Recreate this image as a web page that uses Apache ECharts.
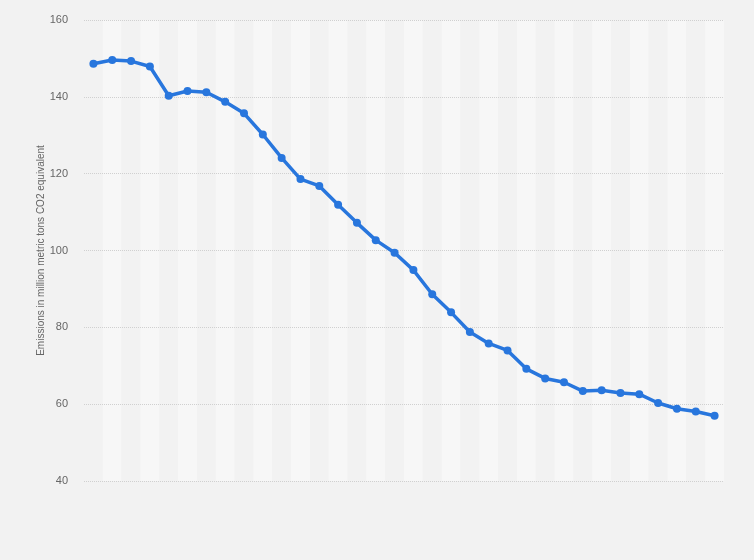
<!DOCTYPE html>
<html>
<head>
<meta charset="utf-8">
<script src="https://cdn.jsdelivr.net/npm/echarts@6/dist/echarts.min.js"></script>
<style>
html,body{margin:0;padding:0;background:#f2f2f2;}
#chart{width:754px;height:560px;}
</style>
</head>
<body>
<div id="chart"></div>
<script>
const years = ['1990','1991','1992','1993','1994','1995','1996','1997','1998','1999','2000','2001','2002','2003','2004','2005','2006','2007','2008','2009','2010','2011','2012','2013','2014','2015','2016','2017','2018','2019','2020','2021','2022','2023'];
const emissions = [148.6,149.6,149.3,147.9,140.3,141.5,141.2,138.7,135.7,130.2,124.1,118.6,116.8,111.9,107.2,102.7,99.4,94.9,88.6,83.9,78.8,75.8,74.0,69.2,66.7,65.7,63.4,63.6,62.9,62.6,60.3,58.8,58.1,57.0];
const yMin = 40, yMax = 160, yStep = 20;
const axisTitle = 'Emissions in million metric tons CO2 equivalent';

const chart = echarts.init(document.getElementById('chart'), null, {renderer:'canvas'});
chart.setOption({
  backgroundColor: '#f2f2f2',
  animation: false,
  grid: {left: 84, right: 30, top: 20, bottom: 79},
  xAxis: {
    type: 'category',
    data: years,
    boundaryGap: true,
    z: 0,
    axisLine: {show: false},
    axisTick: {show: false},
    axisLabel: {show: false},
    splitLine: {show: false},
    splitArea: {show: true, interval: 0, areaStyle: {color: ['#f2f2f2', '#f7f7f7']}}
  },
  yAxis: {
    type: 'value',
    min: yMin, max: yMax, interval: yStep,
    z: 1,
    name: axisTitle,
    nameLocation: 'middle',
    nameGap: 38,
    nameMoveOverlap: false,
    nameTextStyle: {color: '#666', fontSize: 10, fontFamily: 'Liberation Sans, Arial, sans-serif'},
    axisLine: {show: false},
    axisTick: {show: false},
    axisLabel: {color: '#666', fontSize: 11, margin: 16, fontFamily: 'Liberation Sans, Arial, sans-serif'},
    splitLine: {show: true, lineStyle: {color: '#d0d0d0', type: [1, 1], width: 1}}
  },
  series: [{
    type: 'line',
    data: emissions,
    z: 3,
    symbol: 'circle',
    symbolSize: 8,
    showSymbol: true,
    lineStyle: {color: '#2876dd', width: 3.5},
    itemStyle: {color: '#2876dd'}
  }]
});
</script>
</body>
</html>
